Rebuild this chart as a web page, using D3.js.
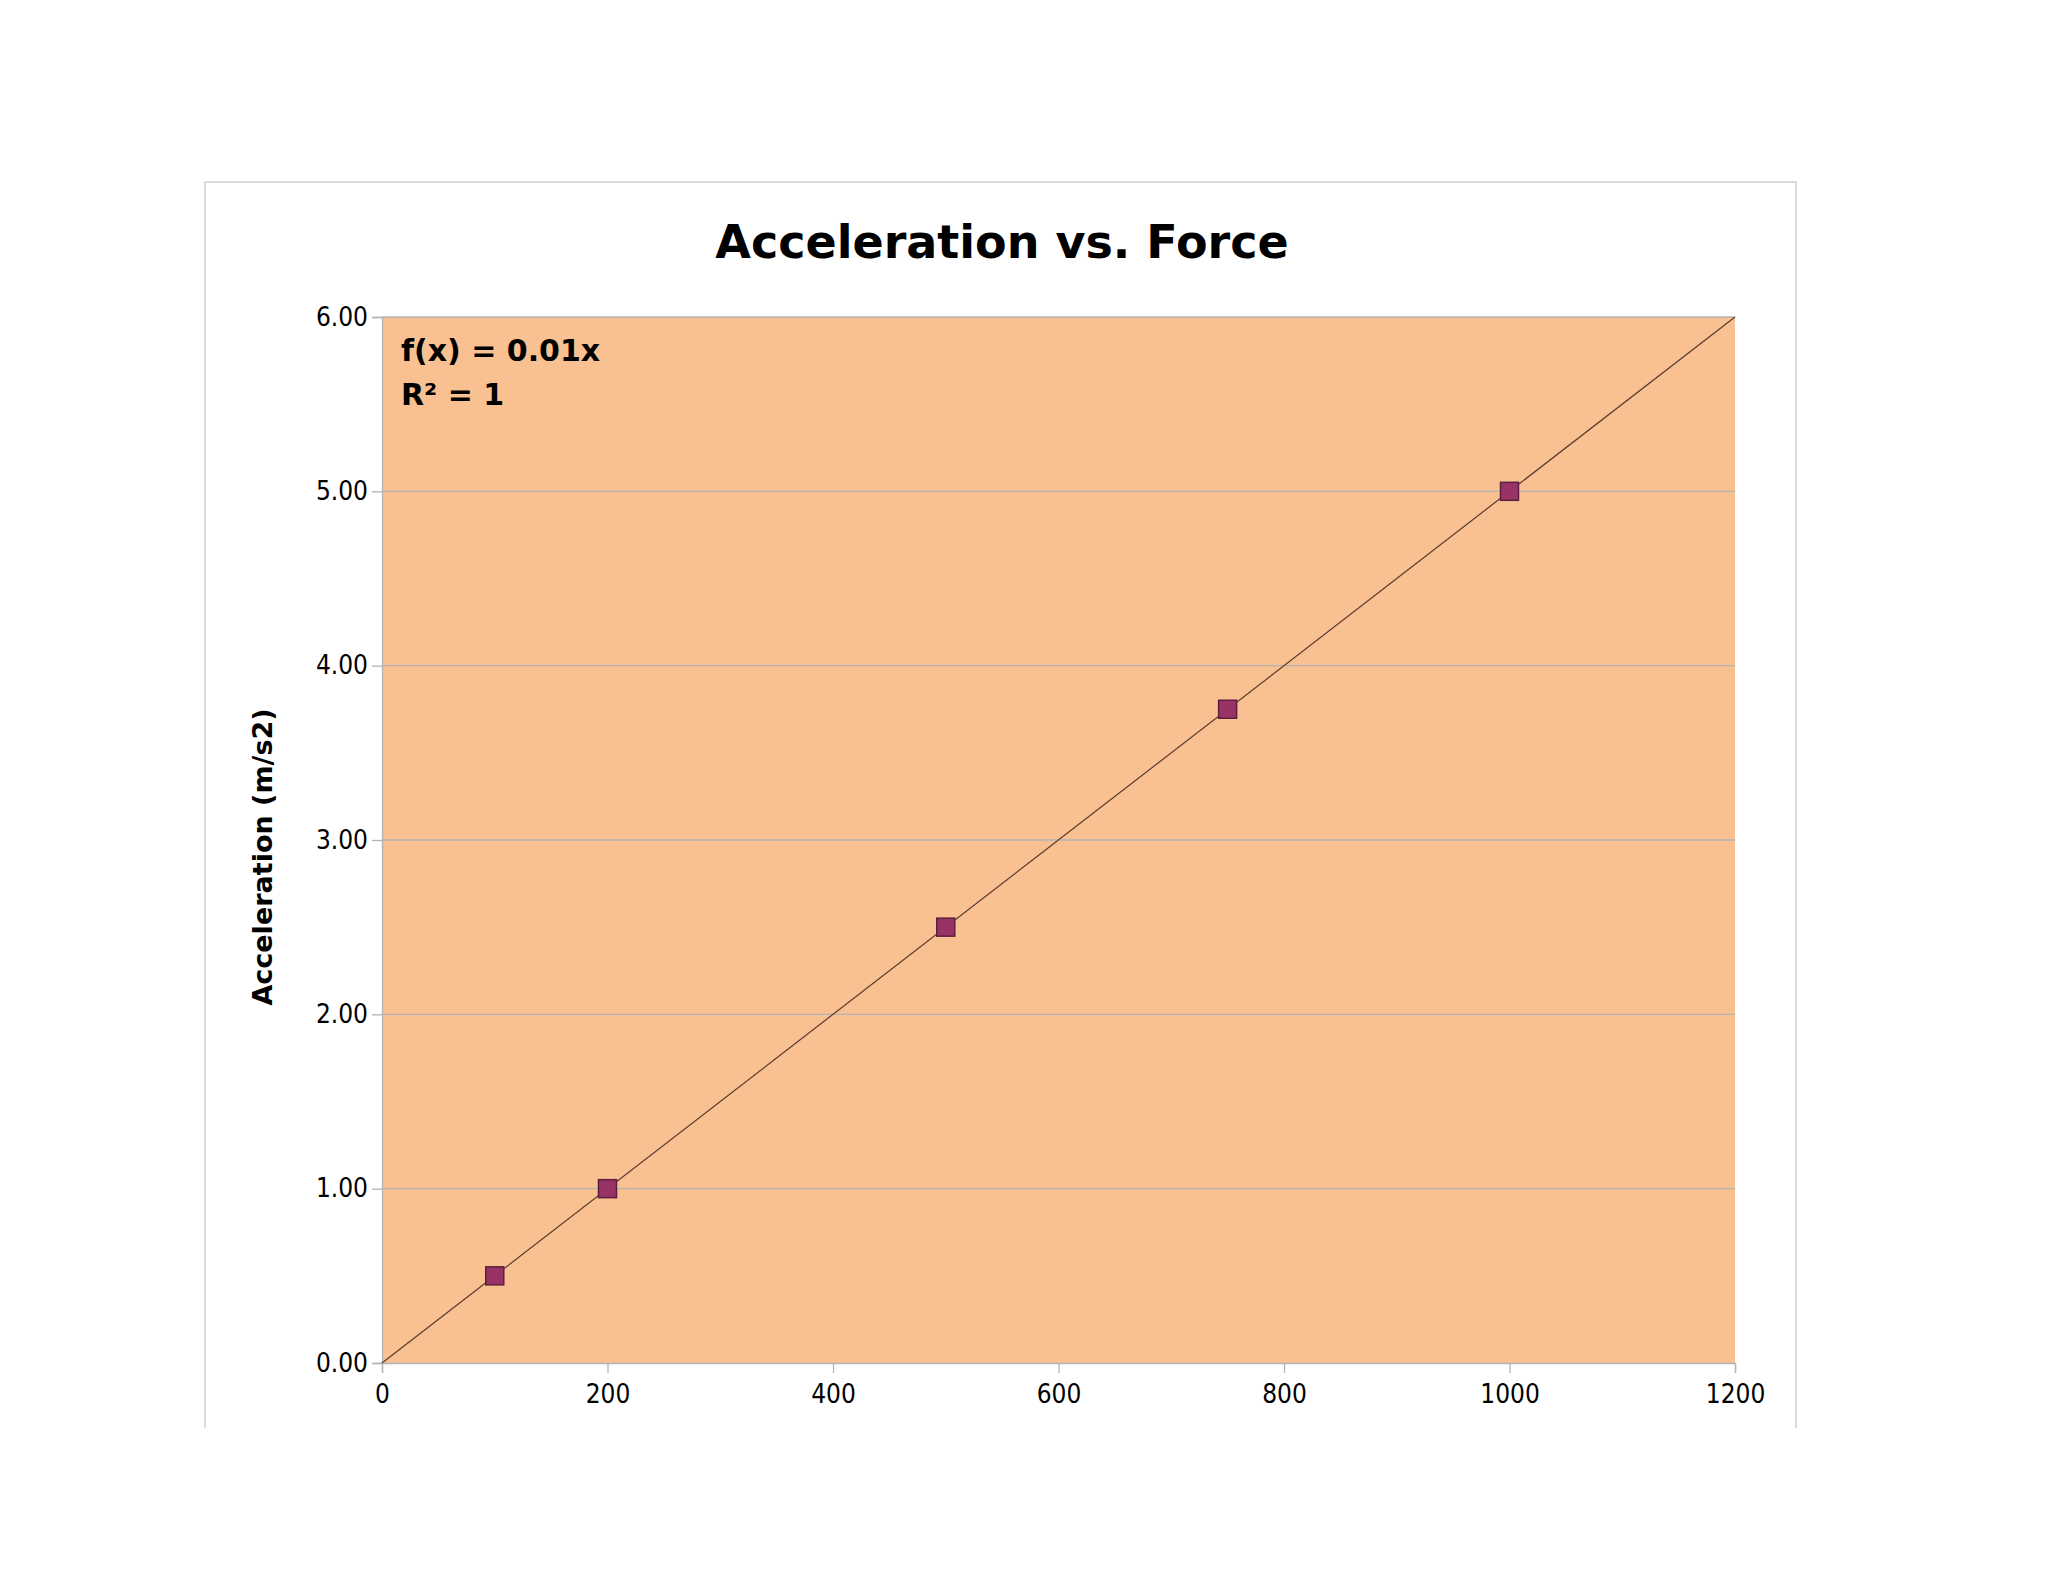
<!DOCTYPE html>
<html>
<head>
<meta charset="utf-8">
<script src="https://cdn.jsdelivr.net/npm/d3@7"></script>
<style>
  body { margin: 0; background: #fff; }
  text { font-family: "Comic Sans MS", "DejaVu Sans", sans-serif; }
</style>
</head>
<body>
<script>
// data
const force = [100, 200, 500, 750, 1000];
const accel = [0.5, 1.0, 2.5, 3.75, 5.0];
const xTicks = [0, 200, 400, 600, 800, 1000, 1200];
const yTicks = [0, 1, 2, 3, 4, 5, 6];
const slope = 0.005; // trend line through the origin

const W = 2048, H = 1582;
const plotL = 382, plotR = 1735, plotT = 317, plotB = 1363;

const svg = d3.select('body').append('svg')
  .attr('width', W).attr('height', H);

// outer frame (open at bottom)
svg.append('path')
  .attr('d', 'M205,1428 V182 H1796 V1428')
  .attr('fill', 'none').attr('stroke', '#d0d0d0').attr('stroke-width', 1.5);

const x = d3.scaleLinear().domain([0, 1200]).range([plotL, plotR]);
const y = d3.scaleLinear().domain([0, 6]).range([plotB, plotT]);

svg.append('rect')
  .attr('x', plotL).attr('y', plotT)
  .attr('width', plotR - plotL).attr('height', plotB - plotT)
  .attr('fill', '#f9c092');

// grid
svg.append('g').selectAll('line').data(yTicks.slice(1)).join('line')
  .attr('x1', plotL).attr('x2', plotR)
  .attr('y1', d => y(d)).attr('y2', d => y(d))
  .attr('stroke', '#b3b3b3').attr('stroke-width', 1.3);

// axes
const xAxis = svg.append('g').attr('transform', `translate(0,${plotB})`)
  .call(d3.axisBottom(x).tickValues(xTicks).tickSize(10).tickPadding(12).tickFormat(d3.format('d')));
const yAxis = svg.append('g').attr('transform', `translate(${plotL},0)`)
  .call(d3.axisLeft(y).tickValues(yTicks).tickSize(10).tickPadding(4).tickFormat(d3.format('.2f')));
[xAxis, yAxis].forEach(a => {
  a.selectAll('path,line').attr('stroke', '#b3b3b3').attr('stroke-width', 1.3);
  a.selectAll('text').attr('font-size', 26).attr('fill', '#000')
    .style('font-family', '"DejaVu Sans Condensed", "Liberation Sans Narrow", sans-serif');
});

// trend line
svg.append('line')
  .attr('x1', x(0)).attr('y1', y(0))
  .attr('x2', x(1200)).attr('y2', y(1200 * slope))
  .attr('stroke', '#5a3a2a').attr('stroke-width', 1.2);

// markers
const pts = force.map((f, i) => ({ f, a: accel[i] }));
svg.append('g').selectAll('rect').data(pts).join('rect')
  .attr('x', d => x(d.f) - 9).attr('y', d => y(d.a) - 9)
  .attr('width', 18).attr('height', 18)
  .attr('fill', '#993366').attr('stroke', '#5c1f3d').attr('stroke-width', 1.5);

// title
svg.append('text').attr('x', 1002).attr('y', 258)
  .attr('text-anchor', 'middle').attr('font-size', 46).attr('font-weight', 'bold')
  .text('Acceleration vs. Force');

// y label
svg.append('text')
  .attr('transform', 'translate(272,857) rotate(-90)')
  .attr('text-anchor', 'middle').attr('font-size', 27).attr('font-weight', 'bold')
  .text('Acceleration (m/s2)');

// equation
svg.append('text').attr('x', 401).attr('y', 361)
  .attr('font-size', 30).attr('font-weight', 'bold').text('f(x) = 0.01x');
svg.append('text').attr('x', 401).attr('y', 405)
  .attr('font-size', 30).attr('font-weight', 'bold').text('R² = 1');
</script>
</body>
</html>
